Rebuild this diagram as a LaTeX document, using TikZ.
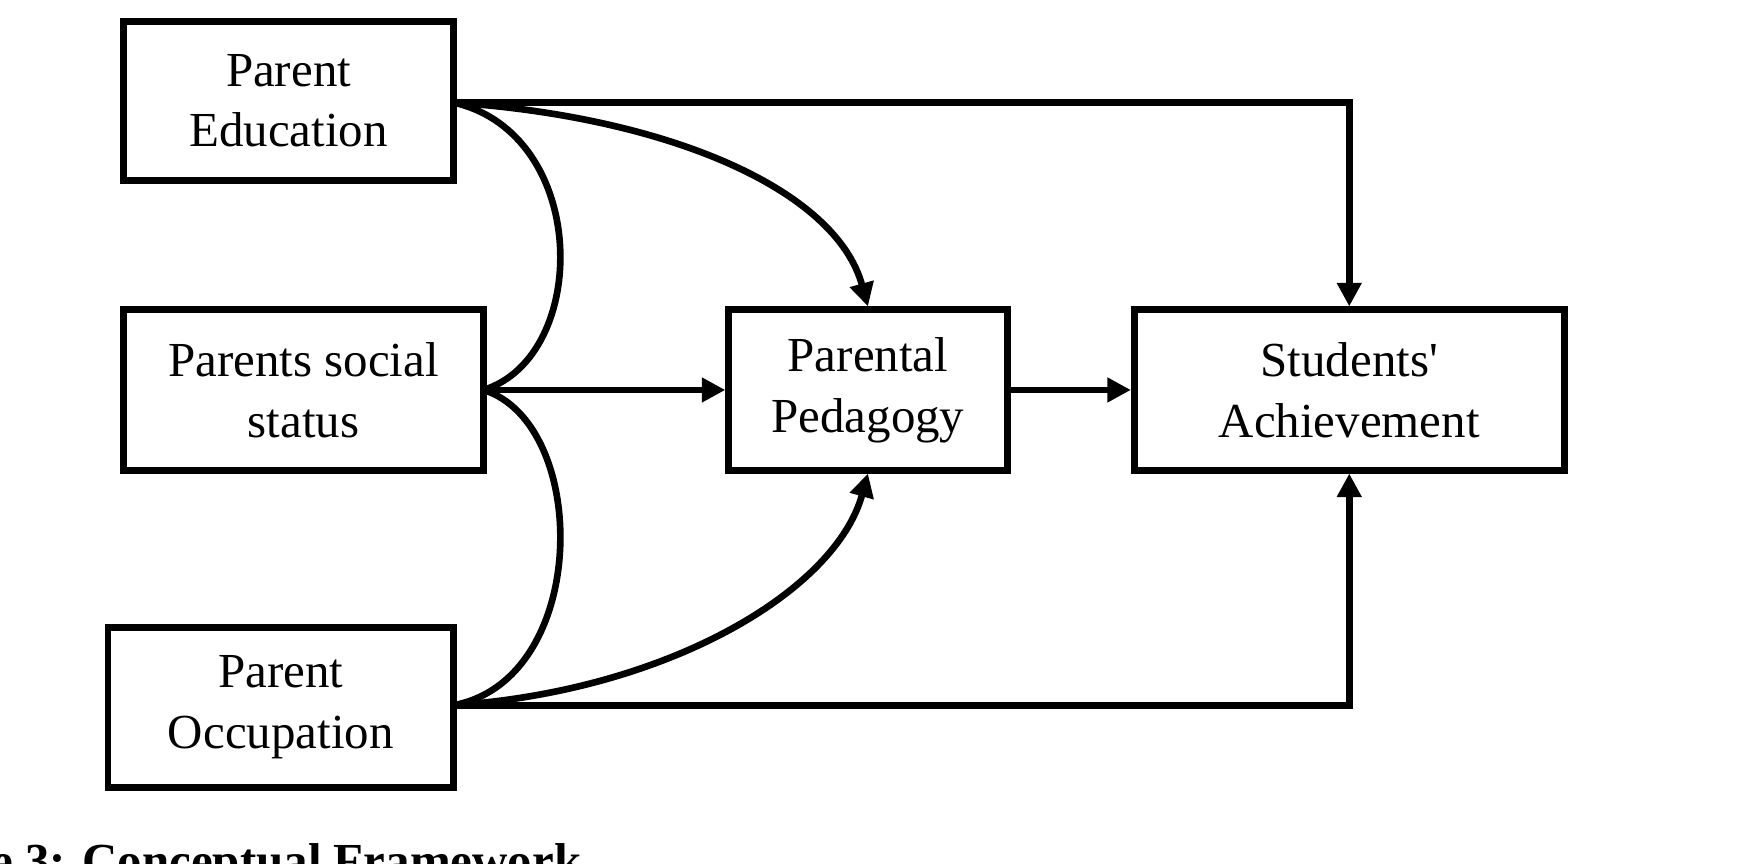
\documentclass[tikz,border=0pt]{standalone}
\usepackage{fontspec}
\setmainfont{Liberation Serif}
\newfontfamily\plainserif[Ligatures=ResetAll]{Liberation Serif}
\usetikzlibrary{arrows.meta}
\begin{document}
\begin{tikzpicture}[x=0.02cm,y=-0.02cm,
  box/.style={draw,line width=3.4pt,align=center,inner sep=0pt,font=\fontsize{25}{31}\selectfont},
  ln/.style={line width=3.4pt},
  arr/.style={ln,-{Triangle[length=12pt,width=12pt]}}]
\useasboundingbox (0,0) rectangle (1568,775);
\clip (0,0) rectangle (1568,775);
\node[box,minimum width=296*0.02cm,minimum height=143*0.02cm] (pe) at (259,90.5) {Parent\\Education};
\node[box,minimum width=323*0.02cm,minimum height=144*0.02cm] (ps) at (272.5,350) {Parents social\\status};
\node[box,minimum width=310*0.02cm,minimum height=144*0.02cm] (po) at (252,635) {Parent\\Occupation};
\node[box,minimum width=250*0.02cm,minimum height=144*0.02cm] (pp) at (779,350) {Parental\\Pedagogy};
\node[box,minimum width=386*0.02cm,minimum height=144*0.02cm] (sa) at (1211,350) {Students{\plainserif\symbol{39}}\\Achievement};
\coordinate (a) at (407,92);
\coordinate (b) at (434,350);
\coordinate (c) at (407,633);
\coordinate (t1) at (1211,92);
\coordinate (t2) at (1211,633);
\draw[arr] (a) -- (t1) -- (sa.north);
\draw[arr] (a) .. controls (600,105) and (750,170) .. (pp.north);
\draw[ln] (a) .. controls (530,120) and (530,320) .. (b);
\draw[arr] (b) -- (pp.west);
\draw[ln] (b) .. controls (530,380) and (530,610) .. (c);
\draw[arr] (c) .. controls (600,620) and (750,530) .. (pp.south);
\draw[arr] (c) -- (t2) -- (sa.south);
\draw[arr] (pp.east) -- (sa.west);
\node[anchor=north west,inner sep=0pt,font=\fontsize{25}{31}\selectfont\bfseries] (cap) at (-8,757) {e 3: Conceptual Framework};
\end{tikzpicture}
\end{document}
